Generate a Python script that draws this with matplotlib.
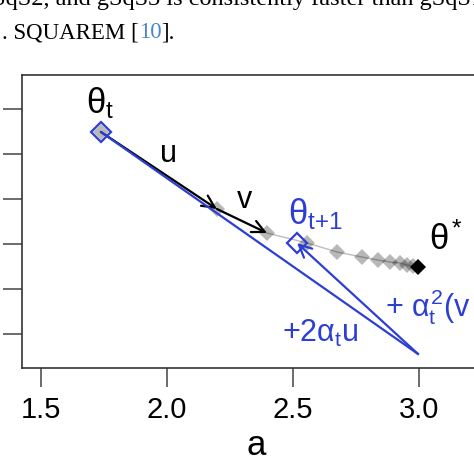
import matplotlib
matplotlib.use('Agg')

import matplotlib.pyplot as plt

plt.rcParams['font.family'] = ['Liberation Sans', 'DejaVu Sans']
plt.rcParams['mathtext.fontset'] = 'custom'
plt.rcParams['mathtext.rm'] = 'Liberation Sans'
plt.rcParams['mathtext.it'] = 'Liberation Sans'
plt.rcParams['mathtext.bf'] = 'Liberation Sans:bold'

# iterate sequence (a, b), first point is theta_t, last is theta*
seq_a = [1.738, 2.198, 2.397, 2.556, 2.675, 2.774, 2.837, 2.885, 2.925, 2.952, 2.976, 2.996]
seq_b = [5.489, 3.778, 3.244, 3.022, 2.822, 2.711, 2.644, 2.600, 2.578, 2.533, 2.511, 2.489]

# extrapolation triangle: theta_t -> corner -> theta_{t+1}
corner = (2.996, 0.556)
theta_next = (2.516, 3.022)

x_ticks = [1.5, 2.0, 2.5, 3.0]
y_ticks = [1, 2, 3, 4, 5, 6]

blue = '#2d3fd3'

fig = plt.figure(figsize=(4.74, 4.74), dpi=100)
ax = fig.add_axes([22 / 474, 106 / 474, 468 / 474, 293 / 474])
ax.set_xlim(1.4246, 3.2817)
ax.set_ylim(0.244, 6.756)

# grey path of the iterates
ax.plot(seq_a, seq_b, color='#bdbdbd', lw=1, zorder=1)
ax.plot(seq_a[:-1], seq_b[:-1], 'D', color='black', alpha=0.28, ms=8, mew=0, zorder=2)
ax.plot(seq_a[-1], seq_b[-1], 'D', color='black', ms=8, mew=0, zorder=3)

# u and v steps
arrow = dict(arrowstyle='->,head_length=0.45,head_width=0.22', color='black', lw=1.6,
             shrinkA=0, shrinkB=0, mutation_scale=20)
ax.annotate('', xy=(seq_a[1], seq_b[1]), xytext=(seq_a[0], seq_b[0]), arrowprops=arrow, zorder=4)
ax.annotate('', xy=(seq_a[2], seq_b[2]), xytext=(seq_a[1], seq_b[1]), arrowprops=arrow, zorder=4)

# blue extrapolation
ax.plot([seq_a[0], corner[0]], [seq_b[0], corner[1]], color=blue, lw=1.6, zorder=4)
barrow = dict(arrow, color=blue)
ax.annotate('', xy=theta_next, xytext=corner, arrowprops=barrow, zorder=4)
ax.plot(seq_a[0], seq_b[0], 'D', mfc='none', mec=blue, ms=10, mew=1.6, zorder=5)
ax.plot(theta_next[0], theta_next[1], 'D', mfc='none', mec=blue, ms=10, mew=1.6, zorder=5)

fs = 22
gs = 25
ax.text(1.734, 6.13, r'$\theta_t$', fontsize=gs, ha='center', va='center')
ax.text(2.004, 5.0, 'u', fontsize=fs, ha='center', va='center')
ax.text(2.306, 3.98, 'v', fontsize=fs, ha='center', va='center')
ax.text(2.587, 3.667, r'$\theta_{t{+}1}$', fontsize=gs, ha='center', va='center', color=blue)
ax.text(3.107, 3.09, r'$\theta^{\!*}$', fontsize=gs, ha='center', va='center')
ax.text(2.607, 1.02, r'$+2\alpha_t u$', fontsize=fs, ha='center', va='center', color=blue)
ax.text(2.865, 1.378, r'$+\ \alpha_t^2(v-u)$', fontsize=fs, ha='left', va='baseline', color=blue)

ax.set_xticks(x_ticks)
ax.set_xticklabels(['1.5', '2.0', '2.5', '3.0'], fontsize=21)
ax.set_yticks(y_ticks)
ax.tick_params(axis='both', length=14, width=1.1, color='#444444', pad=6)
ax.tick_params(axis='y', labelleft=False)
ax.set_xlabel('a', fontsize=25, labelpad=4)
for s in ax.spines.values():
    s.set_color('#333333')
    s.set_linewidth(1.2)

# caption text above the figure
serif = ['Liberation Serif', 'DejaVu Serif']
cs = 16.5
fig.text(-20 / 474, 1 - 5 / 474, 'gSqS2, and gSqS3 is consistently faster than gSqS1',
         fontsize=17.5, family=serif, va='baseline', ha='left')
t = fig.text(2 / 474, 1 - 38 / 474, '. SQUAREM [', fontsize=cs, family=serif, va='baseline')
fig.canvas.draw()
x1 = t.get_window_extent().x1 / fig.bbox.width
t2 = fig.text(x1, 1 - 38 / 474, '10', fontsize=cs, family=serif, va='baseline', color='#4a86c8')
fig.canvas.draw()
x2 = t2.get_window_extent().x1 / fig.bbox.width
fig.text(x2, 1 - 38 / 474, '].', fontsize=cs, family=serif, va='baseline')

fig.savefig('out.png', dpi=100)
